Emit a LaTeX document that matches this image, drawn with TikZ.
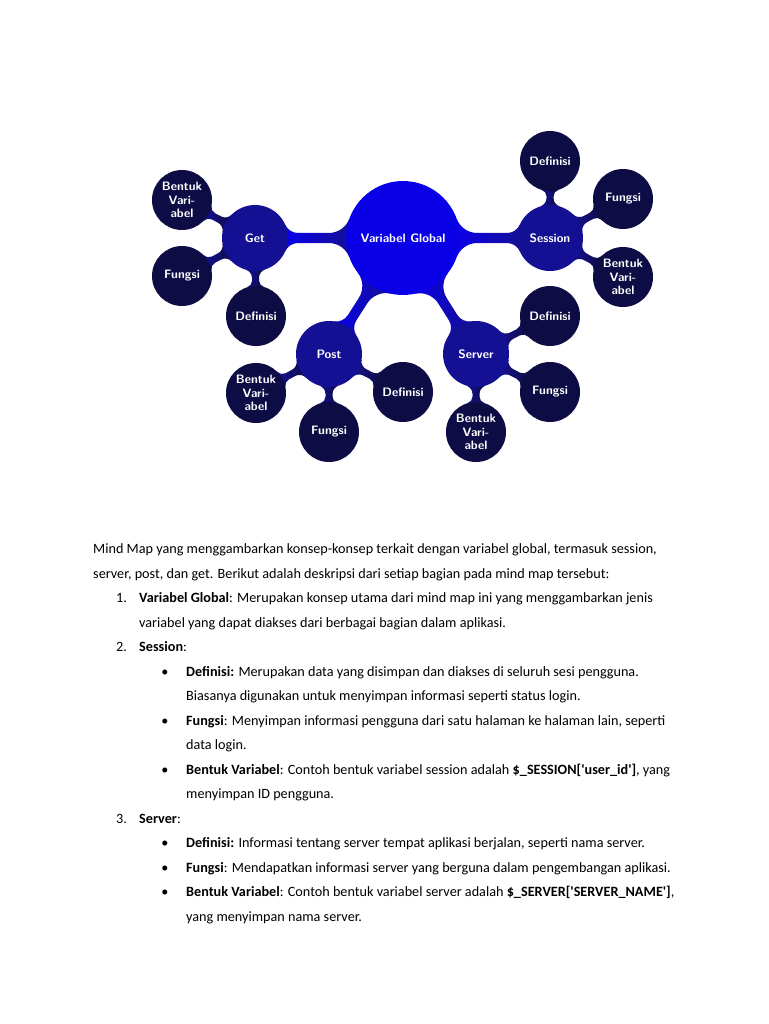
\documentclass[tikz,border=0pt]{standalone}
\usepackage{fontspec}
\setmainfont{Carlito}
\usetikzlibrary{backgrounds}
\definecolor{cCenter}{RGB}{10,0,232}
\definecolor{cMid}{RGB}{20,16,148}
\definecolor{cLeaf}{RGB}{14,12,68}
\newcommand\sq{\XeTeXglyph\XeTeXcharglyph"0027\relax}
% geometry of one end of a connection bar: #1 circle radius, #2 half width, #3 fillet radius
\newcommand\mmcalc[3]{%
  \pgfmathsetmacro\mmcx{sqrt((#1+#3)^2-(#2+#3)^2)}%
  \pgfmathsetmacro\mmtx{#1*\mmcx/(#1+#3)}%
  \pgfmathsetmacro\mmty{#1*(#2+#3)/(#1+#3)}%
  \pgfmathsetmacro\mma{atan2(\mmty-#2-#3,\mmtx-\mmcx)}%
  \pgfmathsetmacro\mmk{4/3*tan((-90-\mma)/4)*#3}%
  \pgfmathsetmacro\mmcpx{\mmtx-\mmk*sin(\mma)}%
  \pgfmathsetmacro\mmcpy{\mmty+\mmk*cos(\mma)}%
}
% connection bar: #1 node A, #2 node B, #3 rA, #4 rB, #5 half width, #6 fillet A, #7 fillet B, #8 colour A, #9 colour B
\newcommand\mmbar[9]{%
  \pgfpointdiff{\pgfpointanchor{#1}{center}}{\pgfpointanchor{#2}{center}}%
  \pgfgetlastxy\mmdx\mmdy
  \pgfmathsetmacro\mmang{atan2(\mmdy,\mmdx)}%
  \pgfmathsetmacro\mmlen{veclen(\mmdx,\mmdy)}%
  \mmcalc{#3}{#5}{#6}%
  \let\mmAX\mmcx \let\mmATx\mmtx \let\mmATy\mmty \let\mmAK\mmk \let\mmACx\mmcpx \let\mmACy\mmcpy
  \mmcalc{#4}{#5}{#7}%
  \let\mmBX\mmcx \let\mmBTx\mmtx \let\mmBTy\mmty \let\mmBK\mmk \let\mmBCx\mmcpx \let\mmBCy\mmcpy
  \begin{scope}[shift={(#1.center)}, rotate=\mmang]
    \shade[left color=#8, right color=#9]
      (\mmATx,\mmATy) .. controls (\mmACx,\mmACy) and ({\mmAX-\mmAK},#5) .. (\mmAX,#5)
      -- ({\mmlen-\mmBX},#5) .. controls ({\mmlen-\mmBX+\mmBK},#5) and ({\mmlen-\mmBCx},\mmBCy) .. ({\mmlen-\mmBTx},\mmBTy)
      -- ({\mmlen-\mmBTx},-\mmBTy) .. controls ({\mmlen-\mmBCx},-\mmBCy) and ({\mmlen-\mmBX+\mmBK},-#5) .. ({\mmlen-\mmBX},-#5)
      -- (\mmAX,-#5) .. controls ({\mmAX-\mmAK},-#5) and (\mmACx,-\mmACy) .. (\mmATx,-\mmATy) -- cycle;
  \end{scope}%
}
\newcommand\rootbar[2]{\mmbar{#1}{#2}{57}{33}{5}{22}{14}{cCenter}{cMid}}
\newcommand\leafbar[2]{\mmbar{#1}{#2}{33}{30}{3.5}{9}{7}{cMid}{cLeaf}}
\begin{document}
\begin{tikzpicture}[x=1pt,y=-1pt,
  mmtext/.style={text=white, font=\sffamily\bfseries\fontsize{12.2}{13.5}\selectfont, align=center, inner sep=0pt},
  rootc/.style={mmtext, circle, fill=cCenter, minimum size=114pt},
  midc/.style={mmtext, circle, fill=cMid, minimum size=66pt},
  leafc/.style={mmtext, circle, fill=cLeaf, minimum size=60pt},
  line/.style={anchor=base west, inner sep=0pt, font=\fontsize{14.2}{16}\selectfont},
  bul/.style={anchor=base, inner sep=0pt, font=\fontsize{14.2}{16}\selectfont},
]
\useasboundingbox (0,0) rectangle (768,1024);

% mind map nodes
\node[rootc] (vg) at (403,238) {Variabel Global};
\node[midc] (get) at (255,238) {Get};
\node[midc] (ses) at (550,238) {Session};
\node[midc] (post) at (329,354) {Post};
\node[midc] (srv) at (476,354) {Server};

\node[leafc] (getb) at (182,200) {Bentuk\\Vari-\\abel};
\node[leafc] (getf) at (182,276) {Fungsi};
\node[leafc] (getd) at (256,316) {Definisi};

\node[leafc] (sesd) at (550,161) {Definisi};
\node[leafc] (sesf) at (623,199) {Fungsi};
\node[leafc] (sesb) at (623,277) {Bentuk\\Vari-\\abel};

\node[leafc] (postb) at (256,393) {Bentuk\\Vari-\\abel};
\node[leafc] (postf) at (329,432) {Fungsi};
\node[leafc] (postd) at (403,392) {Definisi};

\node[leafc] (srvd) at (550,316) {Definisi};
\node[leafc] (srvf) at (550,392) {Fungsi};
\node[leafc] (srvb) at (476,432) {Bentuk\\Vari-\\abel};

\begin{pgfonlayer}{background}
\fill[white] (0,0) rectangle (768,1024);
\rootbar{vg}{get}
\rootbar{vg}{ses}
\rootbar{vg}{post}
\rootbar{vg}{srv}
\leafbar{get}{getb}
\leafbar{get}{getf}
\leafbar{get}{getd}
\leafbar{ses}{sesd}
\leafbar{ses}{sesf}
\leafbar{ses}{sesb}
\leafbar{post}{postb}
\leafbar{post}{postf}
\leafbar{post}{postd}
\leafbar{srv}{srvd}
\leafbar{srv}{srvf}
\leafbar{srv}{srvb}
\end{pgfonlayer}

% text
\node[line] (t1) at (93,553.5) {Mind Map yang menggambarkan konsep-konsep terkait dengan variabel global, termasuk session,};
\node[line] (t2) at (93,578) {server, post, dan get. Berikut adalah deskripsi dari setiap bagian pada mind map tersebut:};
\node[line] (n1) at (116,602.5) {1.};
\node[line] (t3) at (139,602.5) {\textbf{Variabel Global}: Merupakan konsep utama dari mind map ini yang menggambarkan jenis};
\node[line] (t4) at (139,627) {variabel yang dapat diakses dari berbagai bagian dalam aplikasi.};
\node[line] (n2) at (116,651.5) {2.};
\node[line] (t5) at (139,651.5) {\textbf{Session}:};
\node[bul] (b1) at (165,676) {\textbullet};
\node[line] (t6) at (186,676) {\textbf{Definisi:} Merupakan data yang disimpan dan diakses di seluruh sesi pengguna.};
\node[line] (t7) at (186,700.5) {Biasanya digunakan untuk menyimpan informasi seperti status login.};
\node[bul] (b2) at (165,725) {\textbullet};
\node[line] (t8) at (186,725) {\textbf{Fungsi}: Menyimpan informasi pengguna dari satu halaman ke halaman lain, seperti};
\node[line] (t9) at (186,749.5) {data login.};
\node[bul] (b3) at (165,774) {\textbullet};
\node[line] (t10) at (186,774) {\textbf{Bentuk Variabel}: Contoh bentuk variabel session adalah \textbf{\$\_SESSION[\sq user\_id\sq]}, yang};
\node[line] (t11) at (186,798.5) {menyimpan ID pengguna.};
\node[line] (n3) at (116,823) {3.};
\node[line] (t12) at (139,823) {\textbf{Server}:};
\node[bul] (b4) at (165,847.5) {\textbullet};
\node[line] (t13) at (186,847.5) {\textbf{Definisi:} Informasi tentang server tempat aplikasi berjalan, seperti nama server.};
\node[bul] (b5) at (165,872) {\textbullet};
\node[line] (t14) at (186,872) {\textbf{Fungsi}: Mendapatkan informasi server yang berguna dalam pengembangan aplikasi.};
\node[bul] (b6) at (165,896.5) {\textbullet};
\node[line] (t15) at (186,896.5) {\textbf{Bentuk Variabel}: Contoh bentuk variabel server adalah \textbf{\$\_SERVER[\sq SERVER\_NAME\sq]},};
\node[line] (t16) at (186,921) {yang menyimpan nama server.};
\end{tikzpicture}
\end{document}
